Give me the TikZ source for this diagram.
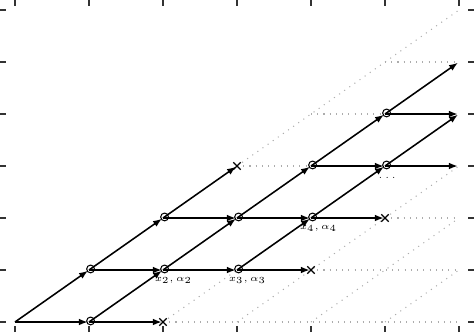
\documentclass[tikz,border=0pt]{standalone}
\usetikzlibrary{arrows.meta,shapes.misc}
\begin{document}
\begin{tikzpicture}[x=1cm,y=0.70270cm,
  greyline/.style={gray!65,dotted,line width=0.4pt},
  flow/.style={line width=0.6pt,-{Latex[length=3.4pt,width=2.6pt]},shorten >=0.5pt},
  circ/.style={circle,draw,line width=0.4pt,inner sep=0pt,minimum size=3pt},
  xmark/.style={cross out,draw,line width=0.45pt,inner sep=0pt,minimum size=2.4pt},
  tickmark/.style={line width=0.4pt,black!80},
  lab/.style={font=\tiny,inner sep=0pt,scale=0.72,transform shape}]
\useasboundingbox (-0.2027,-0.1923) rectangle (6.2027,6.1923);
% ticks
\foreach \k in {0,...,6}{
  \draw[tickmark] (\k,6.1923) -- ++(0,-2.2pt);
  \draw[tickmark] (\k,-0.1923) -- ++(0,2.2pt);
  \draw[tickmark] (-0.2027,\k) -- ++(2.2pt,0);
  \draw[tickmark] (6.2027,\k) -- ++(-2.2pt,0);
}
% grid points
\foreach \i in {0,...,6}{\foreach \j in {0,...,6}{\coordinate (p\i\j) at (\i,\j);}}
% grey continuation lines
\draw[greyline] (p33) -- (p66);
\draw[greyline] (p20) -- (p31);
\draw[greyline] (p30) -- (p63);
\draw[greyline] (p40) -- (p62);
\draw[greyline] (p50) -- (p61);
\draw[greyline] (p20) -- (p60);
\draw[greyline] (p41) -- (p61);
\draw[greyline] (p52) -- (p62);
\draw[greyline] (p33) -- (p43);
\draw[greyline] (p44) -- (p54);
\draw[greyline] (p55) -- (p65);
% black flow segments: rows
\draw[flow] (p00) -- (p10);
\draw[flow] (p10) -- (p20);
\draw[flow] (p11) -- (p21);
\draw[flow] (p21) -- (p31);
\draw[flow] (p31) -- (p41);
\draw[flow] (p22) -- (p32);
\draw[flow] (p32) -- (p42);
\draw[flow] (p42) -- (p52);
\draw[flow] (p43) -- (p53);
\draw[flow] (p53) -- (p63);
\draw[flow] (p54) -- (p64);
% diagonals
\draw[flow] (p00) -- (p11);
\draw[flow] (p11) -- (p22);
\draw[flow] (p22) -- (p33);
\draw[flow] (p10) -- (p21);
\draw[flow] (p21) -- (p32);
\draw[flow] (p32) -- (p43);
\draw[flow] (p43) -- (p54);
\draw[flow] (p54) -- (p65);
\draw[flow] (p31) -- (p42);
\draw[flow] (p42) -- (p53);
\draw[flow] (p53) -- (p64);
% markers
\foreach \p in {10,11,21,22,31,32,42,43,53,54}{\node[circ] (c\p) at ([xshift=0.6pt,yshift=0.4pt]p\p) {};}
\foreach \p in {20,33,41,52}{\node[xmark] (x\p) at (p\p) {};}
% labels
\node[lab] (l2) at (2.14,0.80) {$x_2,\alpha_2$};
\node[lab] (l3) at (3.14,0.80) {$x_3,\alpha_3$};
\node[lab] (l4) at (4.10,1.80) {$x_4,\alpha_4$};
\node[lab] (ld) at (5.03,2.78) {$\ldots$};
\end{tikzpicture}
\end{document}
